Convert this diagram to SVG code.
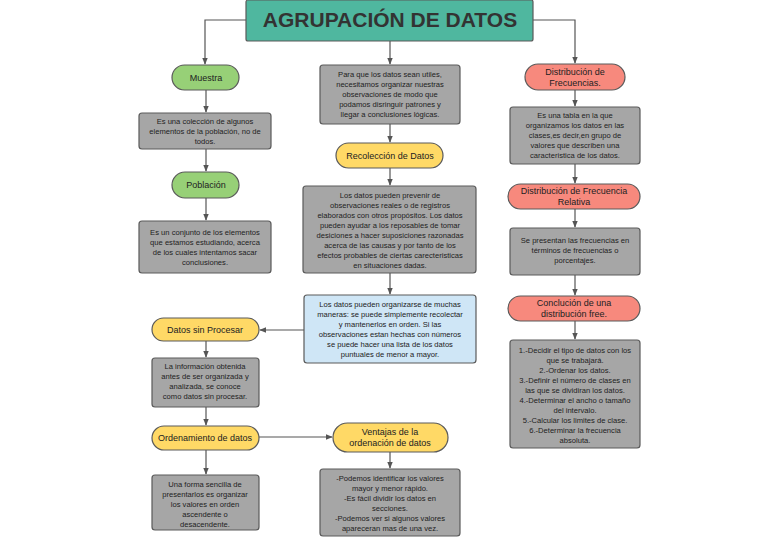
<svg xmlns="http://www.w3.org/2000/svg" width="768" height="543" viewBox="0 0 768 543">
<defs>
<marker id="ar" viewBox="0 0 10 10" refX="9" refY="5" markerWidth="6" markerHeight="6" orient="auto"><path d="M0,1 L10,5 L0,9 z" fill="#555"/></marker>
<style>
.b{fill:#a6a6a6;stroke:#5a5a5a;stroke-width:1.2}
.g{fill:#97d077;stroke:#5a5a5a;stroke-width:1.2}
.y{fill:#ffd966;stroke:#5a5a5a;stroke-width:1.2}
.r{fill:#f7897d;stroke:#5a5a5a;stroke-width:1.2}
.bl{fill:#cfe6f6;stroke:#5a5a5a;stroke-width:1.2}
text{font-family:"Liberation Sans",Arial,sans-serif;font-size:7.6px;fill:#222;text-anchor:middle}
.p{font-size:9px}
.c line,.c path{stroke:#555;stroke-width:1.2;fill:none;marker-end:url(#ar)}
</style>
</defs>
<rect width="768" height="543" fill="#fff"/>
<g class="c">
<path d="M246,20 H205 V64"/>
<line x1="390" y1="41" x2="390" y2="64"/>
<path d="M533,20 H575 V63"/>
<line x1="206" y1="90" x2="206" y2="112"/>
<line x1="206" y1="149" x2="206" y2="171"/>
<line x1="206" y1="198" x2="206" y2="220"/>
<line x1="390" y1="124" x2="390" y2="142"/>
<line x1="390" y1="168" x2="390" y2="185"/>
<line x1="390" y1="273" x2="390" y2="294"/>
<line x1="304" y1="330" x2="260" y2="330"/>
<line x1="206" y1="341" x2="206" y2="357"/>
<line x1="206" y1="407" x2="206" y2="425"/>
<line x1="259" y1="437" x2="332" y2="437"/>
<line x1="206" y1="450" x2="206" y2="474"/>
<line x1="390" y1="452" x2="390" y2="468"/>
<line x1="575" y1="90" x2="575" y2="106"/>
<line x1="575" y1="164" x2="575" y2="183"/>
<line x1="575" y1="209" x2="575" y2="227"/>
<line x1="575" y1="275" x2="575" y2="295"/>
<line x1="575" y1="321" x2="575" y2="339"/>
</g>
<g id="title"><rect x="246" y="0" width="287" height="41" rx="2" fill="#4fb79f" stroke="#5a5a5a" stroke-width="1.2"/><text x="390" y="27" style="font-size:21px;font-weight:bold;fill:#333">AGRUPACIÓN DE DATOS</text></g>
<g id="muestra"><rect class="g" x="172" y="65" width="67" height="25" rx="12.5"/><text class="p" x="206" y="81">Muestra</text></g>
<g id="muestraDesc"><rect class="b" x="139" y="113" width="132" height="36" rx="3"/><text x="205" y="124">Es una colección de algunos</text><text x="205" y="134">elementos de la población, no de</text><text x="205" y="144">todos.</text></g>
<g id="poblacion"><rect class="g" x="172" y="172" width="67" height="26" rx="13"/><text class="p" x="206" y="188">Población</text></g>
<g id="poblacionDesc"><rect class="b" x="139" y="221" width="132" height="52" rx="3"/><text x="205" y="235">Es un conjunto de los elementos</text><text x="205" y="245">que estamos estudiando, acerca</text><text x="205" y="255">de los cuales intentamos sacar</text><text x="205" y="265">conclusiones.</text></g>
<g id="intro"><rect class="b" x="320" y="65" width="140" height="59" rx="3"/><text x="390" y="77">Para que los datos sean utiles,</text><text x="390" y="87">necesitamos organizar nuestras</text><text x="390" y="97">observaciones de modo que</text><text x="390" y="107">podamos disringuir patrones y</text><text x="390" y="117">llegar a conclusiones lógicas.</text></g>
<g id="recoleccion"><rect class="y" x="336" y="143" width="107" height="25" rx="12.5"/><text class="p" x="390" y="159">Recolección de Datos</text></g>
<g id="recoleccionDesc"><rect class="b" x="303" y="186" width="173" height="87" rx="3"/><text x="390" y="198">Los datos pueden prevenir de</text><text x="390" y="208">observaciones reales o de registros</text><text x="390" y="218">elaborados con otros propósitos. Los datos</text><text x="390" y="228">pueden ayudar a los reposables de tomar</text><text x="390" y="238">desiciones a hacer suposiciones razonadas</text><text x="390" y="248">acerca de las causas y por tanto de los</text><text x="390" y="258">efectos probables de ciertas carecteristicas</text><text x="390" y="268">en situaciones dadas.</text></g>
<g id="organizar"><rect class="bl" x="304" y="295" width="172" height="68" rx="3"/><text x="390" y="307">Los datos pueden organizarse de muchas</text><text x="390" y="317">maneras: se puede simplemente recolectar</text><text x="390" y="327">y mantenerlos en orden. Si las</text><text x="390" y="337">observaciones estan hechas con números</text><text x="390" y="347">se puede hacer una lista de los datos</text><text x="390" y="357">puntuales de menor a mayor.</text></g>
<g id="sinProcesar"><rect class="y" x="152" y="318" width="107" height="23" rx="11.5"/><text class="p" x="205" y="333">Datos sin Procesar</text></g>
<g id="sinProcesarDesc"><rect class="b" x="152" y="358" width="107" height="49" rx="3"/><text x="205" y="369">La información obtenida</text><text x="205" y="379">antes de ser organizada y</text><text x="205" y="389">analizada, se conoce</text><text x="205" y="399">como datos sin procesar.</text></g>
<g id="ordenamiento"><rect class="y" x="152" y="426" width="107" height="24" rx="12"/><text class="p" x="205" y="441">Ordenamiento de datos</text></g>
<g id="ordenamientoDesc"><rect class="b" x="152" y="475" width="107" height="55" rx="3"/><text x="205" y="487">Una forma sencilla de</text><text x="205" y="497">presentarlos es organizar</text><text x="205" y="507">los valores en orden</text><text x="205" y="517">ascendente o</text><text x="205" y="527">desacendente.</text></g>
<g id="ventajas"><rect class="y" x="333" y="423" width="115" height="29" rx="14.5"/><text class="p" x="390" y="435">Ventajas de la</text><text class="p" x="390" y="446">ordenación de datos</text></g>
<g id="ventajasDesc"><rect class="b" x="320" y="469" width="140" height="67" rx="3"/><text x="390" y="481">-Podemos identificar los valores</text><text x="390" y="491">mayor y menor rápido.</text><text x="390" y="501">-Es fácil dividir los datos en</text><text x="390" y="511">secciones.</text><text x="390" y="521">-Podemos ver si algunos valores</text><text x="390" y="531">apareceran mas de una vez.</text></g>
<g id="distFrec"><rect class="r" x="525" y="64" width="100" height="26" rx="13"/><text class="p" x="575" y="75">Distribución de</text><text class="p" x="575" y="86">Frecuencias.</text></g>
<g id="distFrecDesc"><rect class="b" x="510" y="107" width="130" height="57" rx="3"/><text x="575" y="118">Es una tabla en la que</text><text x="575" y="128">organizamos los datos en las</text><text x="575" y="138">clases,es decir,en grupo de</text><text x="575" y="148">valores que describen una</text><text x="575" y="158">caracteristica de los datos.</text></g>
<g id="distRel"><rect class="r" x="508" y="184" width="132" height="25" rx="12.5"/><text class="p" x="574" y="194">Distribución de Frecuencia</text><text class="p" x="574" y="205">Relativa</text></g>
<g id="distRelDesc"><rect class="b" x="510" y="228" width="130" height="47" rx="3"/><text x="575" y="243">Se presentan las frecuencias en</text><text x="575" y="253">términos de frecuencias o</text><text x="575" y="263">porcentajes.</text></g>
<g id="conclusion"><rect class="r" x="508" y="296" width="132" height="25" rx="12.5"/><text class="p" x="574" y="306">Conclución de una</text><text class="p" x="574" y="317">distribución free.</text></g>
<g id="conclusionDesc"><rect class="b" x="510" y="340" width="130" height="108" rx="3"/><text x="575" y="353">1.-Decidir el tipo de datos con los</text><text x="575" y="363">que se trabajará.</text><text x="575" y="373">2.-Ordenar los datos.</text><text x="575" y="383">3.-Definir el número de clases en</text><text x="575" y="393">las que se dividiran los datos.</text><text x="575" y="403">4.-Determinar el ancho o tamaño</text><text x="575" y="413">del intervalo.</text><text x="575" y="423">5.-Calcular los limites de clase.</text><text x="575" y="433">6.-Determinar la frecuencia</text><text x="575" y="443">absoluta.</text></g>
</svg>
